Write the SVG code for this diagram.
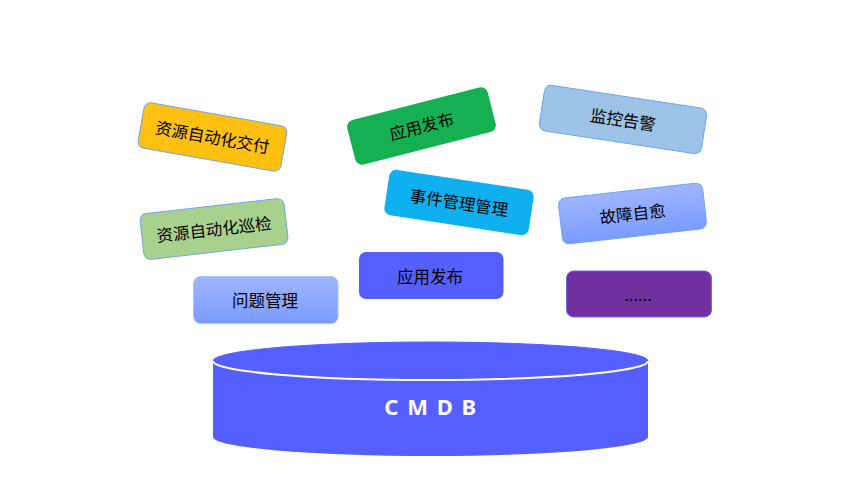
<svg xmlns="http://www.w3.org/2000/svg" width="865" height="503" viewBox="0 0 865 503">
<defs>
<linearGradient id="g" x1="0" y1="0" x2="0" y2="1"><stop offset="0" stop-color="#9fb5ff"/><stop offset="1" stop-color="#7a9cff"/></linearGradient>
</defs>
<style>
.b{stroke:#6fa4ee;stroke-width:1}
.t{font-family:"Noto Sans CJK SC","Noto Sans",sans-serif;font-size:16.5px;font-weight:400;fill:#000;text-anchor:middle;dominant-baseline:central}
</style>
<rect width="865" height="503" fill="#fff"/>
<g id="n1" transform="translate(212.500 137) rotate(10)"><rect class="b" x="-72.500" y="-23" width="145" height="46" rx="7" fill="#ffc010"/><text class="t" y="-0.500">资源自动化交付</text></g>
<g id="n2" transform="translate(421.500 126) rotate(-14.4)"><rect x="-72.500" y="-23" width="145" height="46" rx="7" fill="#15b051"/><text class="t" y="-0.500">应用发布</text></g>
<g id="n3" transform="translate(623 119.500) rotate(8.7)"><rect class="b" x="-82" y="-23" width="164" height="46" rx="7" fill="#9dc3e6"/><text class="t" y="-0.500">监控告警</text></g>
<g id="n4" transform="translate(459 202.500) rotate(8.6)"><rect x="-73" y="-23" width="146" height="46" rx="7" fill="#0fb0f0"/><text class="t" y="-0.500">事件管理管理</text></g>
<g id="n5" transform="translate(214 229) rotate(-6.500)"><rect class="b" x="-72.500" y="-23" width="145" height="46" rx="7" fill="#a9d18e"/><text class="t" y="-0.500">资源自动化巡检</text></g>
<g id="n6" transform="translate(632.500 213.500) rotate(-6.500)"><rect class="b" x="-72.500" y="-23" width="145" height="46" rx="7" fill="url(#g)"/><text class="t" y="-0.500">故障自愈</text></g>
<g id="n7"><rect x="193.500" y="276.500" width="144.500" height="47" rx="7" fill="url(#g)" stroke="#a8c4f8"/><text class="t" x="265" y="300">问题管理</text></g>
<g id="n8"><rect x="359" y="252" width="144.500" height="47" rx="7" fill="#555fff"/><text class="t" x="430" y="275.500">应用发布</text></g>
<g id="n9"><rect x="566.500" y="271" width="145" height="46" rx="7" fill="#7030a0" stroke="#5c6cf0"/><text class="t" x="638" y="293.500">......</text></g>
<g id="n10">
<path d="M213 361V437A217.500 19 0 0 0 648 437V361Z" fill="#555fff"/>
<ellipse cx="430.500" cy="361" rx="217.500" ry="19" fill="#555fff" stroke="#fff" stroke-width="2"/>
<path d="M213 361A217.500 19 0 0 1 648 361" fill="#555fff" stroke="#555fff" stroke-width="1"/>
<text x="431" y="405.500" font-family="'Noto Sans','Open Sans',sans-serif" font-size="22" font-weight="700" fill="#fff" text-anchor="middle" dominant-baseline="central" letter-spacing="1.500">C M D B</text>
</g>
<g id="connectors"/>
</svg>
